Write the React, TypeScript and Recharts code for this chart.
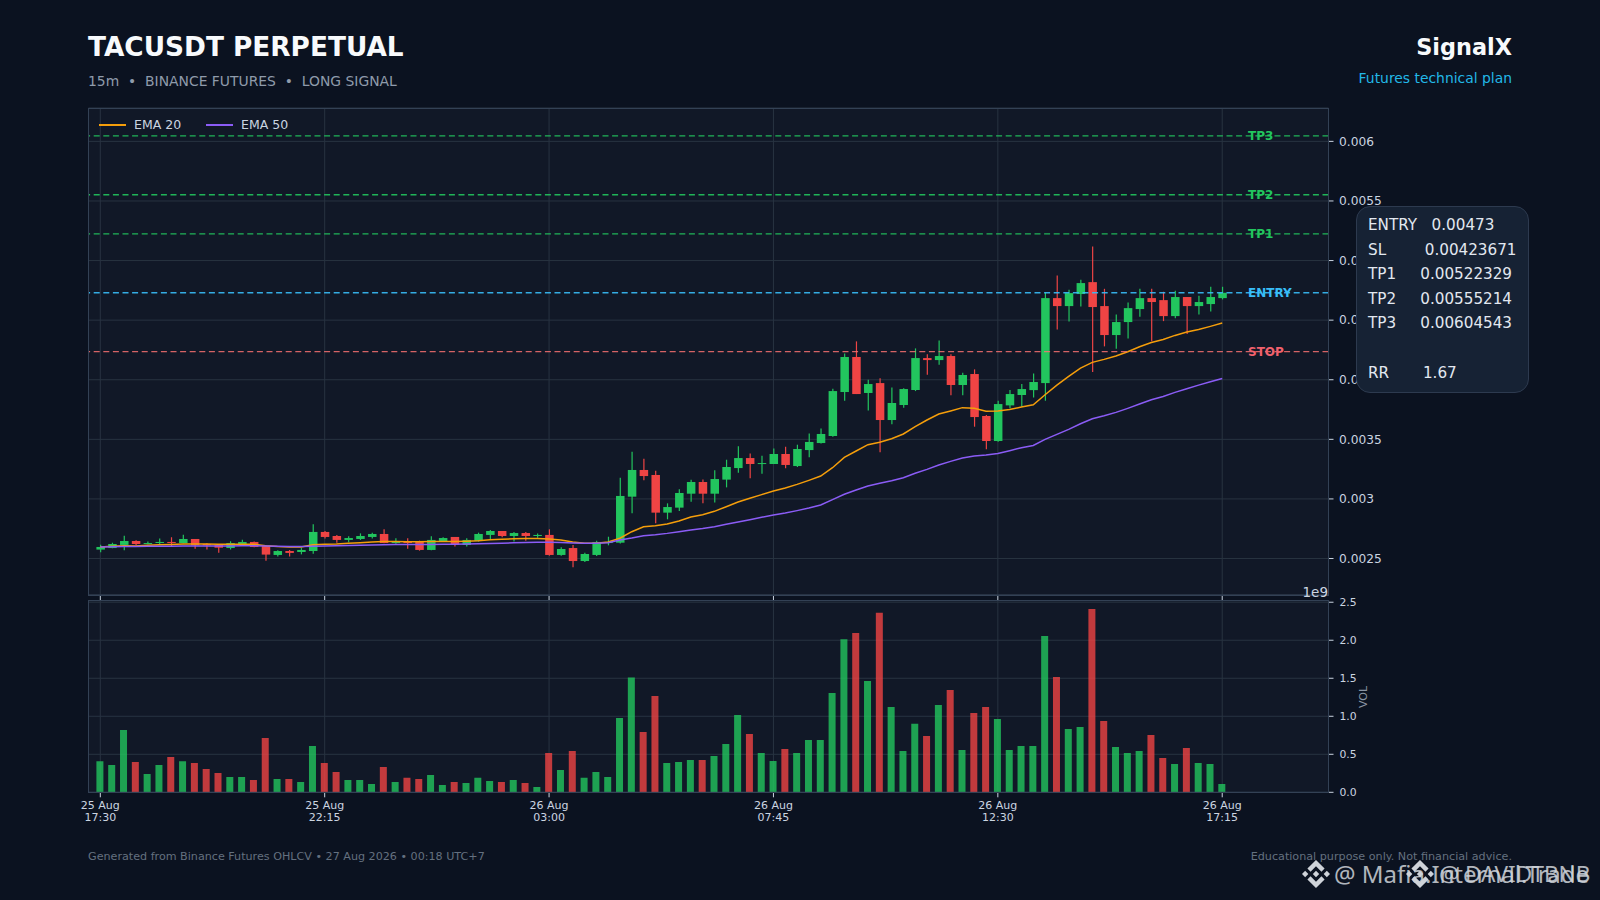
import React from "react";
import { ComposedChart, Bar, Line, XAxis, YAxis, CartesianGrid, ReferenceLine, Cell, Legend } from "recharts";

// Prices below are in millionths of a USDT.
const opens = [2575,2588,2614,2647,2622,2633,2639,2630,2664,2622,2614,2588,2622,2639,2605,2530,2563,2555,2563,2723,2689,2656,2664,2681,2706,2630,2647,2639,2572,2647,2681,2614,2647,2698,2731,2689,2714,2689,2698,2530,2588,2479,2530,2630,2633,3019,3243,3201,2885,2927,3044,3142,3044,3162,3259,3343,3296,3293,3377,3276,3410,3469,3528,3897,4191,3889,3972,3662,3788,3914,4182,4165,4199,3956,4048,3696,3486,3785,3872,3913,3972,4685,4618,4719,4819,4618,4375,4484,4593,4685,4668,4534,4694,4618,4635,4685];
const highs = [2616,2633,2692,2653,2642,2667,2678,2700,2664,2628,2622,2644,2658,2642,2614,2569,2572,2588,2787,2731,2698,2686,2711,2717,2745,2670,2670,2650,2686,2678,2681,2670,2717,2739,2731,2723,2723,2711,2745,2594,2614,2549,2650,2683,3178,3396,3338,3237,2963,3081,3162,3164,3240,3329,3441,3382,3363,3424,3438,3455,3550,3592,3925,4221,4322,4000,4012,3936,3928,4263,4213,4330,4213,4059,4087,3704,3824,3913,3964,4053,4730,4875,4755,4839,5119,4763,4548,4649,4763,4763,4738,4747,4694,4705,4780,4780];
const lows = [2552,2586,2569,2614,2619,2614,2600,2628,2583,2575,2549,2575,2619,2594,2482,2516,2516,2535,2541,2667,2633,2636,2656,2667,2628,2625,2583,2566,2569,2642,2600,2600,2642,2661,2678,2642,2650,2675,2524,2524,2426,2471,2521,2611,2627,2879,3156,2795,2829,2899,2977,2963,2971,3097,3220,3173,3212,3293,3257,3268,3349,3466,3522,3824,3880,3743,3391,3626,3766,3905,4042,4126,3869,3869,3606,3416,3480,3760,3774,3852,3824,4422,4489,4615,4064,4280,4260,4347,4529,4324,4492,4515,4383,4548,4573,4674];
const closes = [2597,2622,2647,2622,2630,2639,2633,2664,2611,2611,2591,2630,2639,2597,2533,2563,2547,2572,2723,2681,2656,2672,2689,2706,2630,2647,2630,2572,2656,2672,2614,2656,2706,2731,2689,2714,2689,2698,2530,2580,2479,2538,2639,2639,3025,3243,3192,2885,2932,3050,3142,3044,3167,3268,3343,3293,3301,3377,3285,3419,3478,3545,3905,4191,3880,3964,3662,3805,3922,4182,4165,4199,3956,4040,3687,3486,3796,3880,3922,3981,4685,4618,4727,4811,4610,4375,4484,4601,4685,4652,4534,4694,4618,4652,4694,4730];
const ema20 = [2597,2603,2608,2605,2611,2616,2618,2622,2622,2622,2619,2619,2619,2619,2608,2600,2597,2597,2616,2620,2622,2628,2633,2639,2642,2642,2640,2640,2642,2642,2642,2645,2650,2658,2661,2665,2667,2667,2664,2655,2639,2628,2628,2639,2670,2725,2767,2776,2790,2815,2849,2868,2896,2935,2974,3005,3036,3067,3092,3122,3156,3192,3262,3349,3402,3455,3475,3505,3545,3606,3662,3712,3738,3766,3760,3735,3738,3751,3771,3790,3874,3955,4028,4098,4146,4171,4199,4235,4277,4313,4338,4372,4400,4422,4448,4476];
const ema50 = [2597,2598,2600,2600,2602,2603,2604,2605,2606,2606,2606,2606,2607,2607,2605,2602,2600,2600,2604,2606,2608,2610,2612,2614,2616,2617,2617,2617,2618,2620,2620,2622,2624,2627,2629,2632,2634,2636,2636,2634,2630,2628,2628,2633,2656,2672,2692,2700,2711,2725,2739,2751,2767,2787,2806,2826,2846,2865,2882,2902,2924,2949,2994,3039,3075,3108,3131,3153,3178,3215,3248,3285,3315,3343,3360,3369,3382,3405,3430,3449,3500,3542,3584,3631,3673,3698,3726,3760,3796,3832,3860,3894,3925,3955,3983,4011];
// Volume in billions.
const volumes = [0.41,0.36,0.82,0.40,0.24,0.36,0.465,0.41,0.386,0.307,0.254,0.20,0.20,0.162,0.715,0.175,0.175,0.136,0.61,0.386,0.268,0.162,0.162,0.11,0.333,0.136,0.19,0.175,0.228,0.096,0.136,0.123,0.19,0.15,0.136,0.162,0.123,0.07,0.517,0.294,0.544,0.19,0.268,0.20,0.978,1.51,0.794,1.268,0.386,0.40,0.425,0.425,0.478,0.636,1.018,0.767,0.517,0.412,0.57,0.517,0.689,0.689,1.307,2.013,2.096,1.465,2.36,1.123,0.544,0.90,0.741,1.149,1.346,0.557,1.044,1.123,0.965,0.557,0.61,0.61,2.057,1.518,0.833,0.86,2.412,0.939,0.596,0.517,0.544,0.754,0.452,0.373,0.583,0.386,0.373,0.11];

const timeTicks = [0, 19, 38, 57, 76, 95];
const timeTickDays = ["25 Aug", "25 Aug", "26 Aug", "26 Aug", "26 Aug", "26 Aug"];
const timeTickTimes = ["17:30", "22:15", "03:00", "07:45", "12:30", "17:15"];
const priceTicks = [0.0025, 0.003, 0.0035, 0.004, 0.0045, 0.005, 0.0055, 0.006];
const volumeTicks = [0, 0.5, 1, 1.5, 2, 2.5];
const levelNames = ["TP3", "TP2", "TP1", "ENTRY", "STOP"];
const levelValues = [0.00604543, 0.00555214, 0.00522329, 0.00473, 0.00423671];
const levelLines = ["#22c55e", "#22c55e", "#22c55e", "#38bdf8", "#f87171"];
const levelTexts = ["#22c55e", "#22c55e", "#22c55e", "#38bdf8", "#f0616d"];
const infoLines = ["ENTRY   0.00473", "SL        0.00423671", "TP1     0.00522329", "TP2     0.00555214", "TP3     0.00604543", " ", "RR       1.67"];

const priceData = opens.map((o, i) => ({
  i,
  open: o / 1e6,
  high: highs[i] / 1e6,
  low: lows[i] / 1e6,
  close: closes[i] / 1e6,
  range: [lows[i] / 1e6, highs[i] / 1e6],
  ema20: ema20[i] / 1e6,
  ema50: ema50[i] / 1e6,
}));
const volumeData = volumes.map((v, i) => ({ i, v, up: closes[i] >= opens[i] }));

const BG = "#0b1220";
const PANEL = "#111827";
const GRID = "#283341";
const SPINE = "#334155";
const TICK = "#cbd5e1";
const UP = "#22c55e";
const DOWN = "#ef4444";
const FONT = "'DejaVu Sans', sans-serif";
const X_DOMAIN: [number, number] = [-1, 104];

function Candle(props: any) {
  const { x, y, width, height, payload } = props;
  const { open, close, high, low } = payload;
  const k = height / (high - low);
  const cx = x + width / 2;
  const color = close >= open ? UP : DOWN;
  const top = y + (high - Math.max(open, close)) * k;
  const bottom = y + (high - Math.min(open, close)) * k;
  return (
    <g>
      <line x1={cx} x2={cx} y1={y} y2={y + height} stroke={color} strokeWidth={1.2} />
      <rect x={x} y={top} width={width} height={Math.max(bottom - top, 1)} fill={color} />
    </g>
  );
}

function LevelLabel(props: any) {
  const { viewBox, text, color } = props;
  return (
    <text x={1248} y={viewBox.y} fill={color} fontFamily={FONT} fontSize={12} fontWeight="bold" dominantBaseline="central">
      {text}
    </text>
  );
}

function TimeTick(props: any) {
  const { x, y, payload } = props;
  const n = timeTicks.indexOf(payload.value);
  return (
    <g>
      <text x={x} y={y + 10} textAnchor="middle" fill={TICK} fontFamily={FONT} fontSize={11}>{timeTickDays[n]}</text>
      <text x={x} y={y + 21.5} textAnchor="middle" fill={TICK} fontFamily={FONT} fontSize={11}>{timeTickTimes[n]}</text>
    </g>
  );
}

function LegendBox() {
  const item = (x: number, color: string, label: string) => (
    <React.Fragment key={label}>
      <div style={{ position: "absolute", left: x + 0.5, top: 124, width: 27, height: 1.5, background: color }} />
      <div style={{ position: "absolute", left: x + 36, top: 117, color: TICK, font: `12.5px ${FONT}`, whiteSpace: "pre", lineHeight: "16px" }}>{label}</div>
    </React.Fragment>
  );
  return <div style={{ position: "absolute", left: 0, top: 0, width: 0, height: 0 }}>{item(98, "#f59e0b", "EMA 20")}{item(205, "#8b5cf6", "EMA 50")}</div>;
}

function Abs(props: any) {
  const { style, children } = props;
  return <div style={{ position: "absolute", fontFamily: FONT, whiteSpace: "pre", ...style }}>{children}</div>;
}

function BnbIcon(props: any) {
  const { x, y, size } = props;
  return (
    <svg style={{ position: "absolute", left: x, top: y }} width={size} height={size} viewBox="0 0 126.61 126.61" fill="#cfd3d9">
      <path d="M38.73 53.2L63.3 28.63 87.9 53.2l14.3-14.3L63.3 0 24.43 38.9z" />
      <path d="M0 63.31l14.3-14.3 14.31 14.3-14.3 14.3z" />
      <path d="M38.73 73.41L63.3 98l24.6-24.6 14.31 14.29-38.9 38.91-38.91-38.88z" />
      <path d="M98 63.31l14.3-14.3 14.31 14.3-14.3 14.3z" />
      <path d="M77.83 63.3L63.3 48.76 52.56 59.5l-1.24 1.24-2.54 2.54 14.52 14.53 14.53-14.51z" />
    </svg>
  );
}

export default function App() {
  return (
    <div style={{ position: "absolute", left: 0, top: 0, width: 1600, height: 900, background: BG, overflow: "hidden" }}>
      <Abs style={{ left: 88, top: 29.5, color: "#f8fafc", fontSize: 26.35, fontWeight: "bold", lineHeight: "34px" }}>TACUSDT PERPETUAL</Abs>
      <Abs style={{ left: 88, top: 72, color: "#8f9bab", fontSize: 13.9, lineHeight: "18px" }}>15m  •  BINANCE FUTURES  •  LONG SIGNAL</Abs>
      <Abs style={{ right: 88, top: 33, color: "#f8fafc", fontSize: 22.4, fontWeight: "bold", lineHeight: "28px" }}>SignalX</Abs>
      <Abs style={{ right: 88, top: 69, color: "#22b8e8", fontSize: 13.9, lineHeight: "18px" }}>Futures technical plan</Abs>

      <div style={{ position: "absolute", left: 0, top: 0 }}>
        <ComposedChart width={1600} height={900} data={priceData} margin={{ left: 88.5, top: 108, right: 211.5, bottom: 297 }} barSize={8.5}>
          <CartesianGrid stroke={GRID} fill={PANEL} strokeWidth={1} />
          <XAxis type="number" dataKey="i" domain={X_DOMAIN} ticks={timeTicks} allowDataOverflow height={8} tickSize={5} interval={0}
            stroke={SPINE} tickLine={{ stroke: TICK }} tickFormatter={() => ""} />
          <YAxis orientation="right" type="number" domain={[0.002194, 0.00628]} ticks={priceTicks} allowDataOverflow width={60} interval={0}
            tickSize={5} tickMargin={5.5} stroke={SPINE} tickLine={{ stroke: TICK }} tickFormatter={(v: number) => String(v)}
            tick={{ fill: TICK, fontFamily: FONT, fontSize: 12.2 }} />
          <Legend verticalAlign="top" align="left" content={() => <LegendBox />} wrapperStyle={{ position: "absolute", left: 0, top: 0, width: 0, height: 0 }} />
          <Line name="EMA 20" dataKey="ema20" type="linear" stroke="#f59e0b" strokeWidth={1.5} dot={false} activeDot={false} isAnimationActive={false} />
          <Line name="EMA 50" dataKey="ema50" type="linear" stroke="#8b5cf6" strokeWidth={1.5} dot={false} activeDot={false} isAnimationActive={false} />
          <Bar dataKey="range" shape={Candle} isAnimationActive={false} legendType="none" />
          {levelValues.map((v, n) => (
            <ReferenceLine key={levelNames[n]} y={v} stroke={levelLines[n]} strokeDasharray="6 3.6" strokeWidth={1.3} strokeOpacity={n === 4 ? 0.85 : 0.9}
              label={(p: any) => <LevelLabel {...p} text={levelNames[n]} color={levelTexts[n]} />} />
          ))}
        </ComposedChart>
      </div>

      <div style={{ position: "absolute", left: 0, top: 0 }}>
        <ComposedChart width={1600} height={900} data={volumeData} margin={{ left: 88.5, top: 600.7, right: 211.5, bottom: 77.7 }} barSize={7}>
          <CartesianGrid stroke={GRID} fill={PANEL} strokeWidth={1} />
          <XAxis type="number" dataKey="i" domain={X_DOMAIN} ticks={timeTicks} allowDataOverflow height={30} tickSize={5} interval={0}
            stroke={SPINE} tickLine={{ stroke: TICK }} tick={<TimeTick />} />
          <YAxis orientation="right" type="number" domain={[0, 2.52]} ticks={volumeTicks} allowDataOverflow width={60} interval={0}
            tickSize={5} tickMargin={6} stroke={SPINE} tickLine={{ stroke: TICK }} tickFormatter={(v: number) => v.toFixed(1)}
            tick={{ fill: TICK, fontFamily: FONT, fontSize: 10.8, dy: -0.5 }} />
          <Bar dataKey="v" isAnimationActive={false} fillOpacity={0.8}>
            {volumeData.map((d) => <Cell key={d.i} fill={d.up ? UP : DOWN} />)}
          </Bar>
        </ComposedChart>
      </div>

      <div style={{ position: "absolute", left: 88, top: 108, width: 1240.5, height: 487.5, border: `1px solid ${SPINE}`, boxSizing: "border-box" }} />
      <div style={{ position: "absolute", left: 88, top: 600, width: 1240.5, height: 192.5, border: `1px solid ${SPINE}`, boxSizing: "border-box" }} />

      <Abs style={{ right: 272, top: 584, color: TICK, fontSize: 13.5, lineHeight: "16px" }}>1e9</Abs>
      <Abs style={{ left: 1353, top: 690, color: "#8a94a3", fontSize: 11, lineHeight: "14px", transform: "rotate(-90deg)" }}>VOL</Abs>

      <div style={{ position: "absolute", left: 1356, top: 206, width: 173, height: 187, background: "#162234", border: "1.5px solid #2d3a4f", borderRadius: 14, boxSizing: "border-box" }} />
      {infoLines.map((t, n) => (
        <Abs key={n} style={{ left: 1368, top: 215 + n * 24.6, color: "#e2e8f0", fontSize: 15.2, lineHeight: "20px" }}>{t}</Abs>
      ))}

      <Abs style={{ left: 88, top: 850, color: "#64707f", fontSize: 11.15, lineHeight: "14px" }}>Generated from Binance Futures OHLCV • 27 Aug 2026 • 00:18 UTC+7</Abs>
      <Abs style={{ right: 88, top: 850, color: "#64707f", fontSize: 11.18, lineHeight: "14px" }}>Educational purpose only. Not financial advice.</Abs>

      <BnbIcon x={1302} y={860} size={28} />
      <Abs style={{ left: 1334, top: 859, color: "#cfd3d9", fontSize: 24, lineHeight: "30px", opacity: 0.85, fontFamily: "'Noto Sans', sans-serif" }}>@ Mafia.Internal.Trade</Abs>
      <BnbIcon x={1406} y={860} size={28} />
      <Abs style={{ left: 1439, top: 860, color: "#cfd3d9", fontSize: 22.5, lineHeight: "28px", opacity: 0.85, fontFamily: "'Noto Sans', sans-serif" }}>@ DAVIDTBNB</Abs>
    </div>
  );
}
